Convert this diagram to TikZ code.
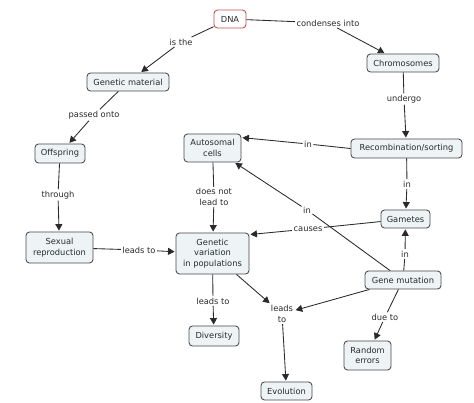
\documentclass[tikz,border=0pt]{standalone}
\usepackage{fontspec}
\setmainfont{DejaVu Sans}
\usetikzlibrary{arrows.meta,calc}
\definecolor{conceptfill}{HTML}{EEF3F6}
\definecolor{ink}{HTML}{2A2A2A}
\definecolor{dnared}{HTML}{C0504D}
\begin{document}
\begin{tikzpicture}[x=1pt,y=-1pt,
  every node/.style={font=\fontsize{8.3}{10.5}\selectfont, text=ink},
  concept/.style={draw=ink!85, line width=0.85pt, fill=conceptfill, rounded corners=3.5pt, align=center, inner sep=1pt},
  link/.style={fill=white, align=center, inner sep=1.5pt},
  conn/.style={draw=ink, line width=0.85pt},
  arr/.style={conn, -{Triangle[length=6.5pt,width=7pt]}, shorten >=1pt}
]
\useasboundingbox[fill=white] (0,0) rectangle (474,403);

% concepts
\node[concept, draw=dnared, fill=white, minimum width=32pt, minimum height=18pt] (dna) at (230,19) {DNA};
\node[concept, minimum width=72pt, minimum height=18pt] (chrom) at (403,63) {Chromosomes};
\node[concept, minimum width=82pt, minimum height=18pt] (genmat) at (128,82) {Genetic material};
\node[concept, minimum width=50pt, minimum height=19pt] (off) at (60,153.5) {Offspring};
\node[concept, minimum width=57pt, minimum height=28pt] (auto) at (212.5,148) {Autosomal\\cells};
\node[concept, minimum width=111pt, minimum height=19pt] (recomb) at (406.5,148.5) {Recombination/sorting};
\node[concept, minimum width=49pt, minimum height=18pt] (gam) at (405.5,219) {Gametes};
\node[concept, minimum width=67pt, minimum height=31pt] (sex) at (59.5,247.5) {Sexual\\reproduction};
\node[concept, minimum width=73pt, minimum height=41pt] (genvar) at (212.5,253.5) {Genetic\\variation\\in populations};
\node[concept, minimum width=76pt, minimum height=18pt] (mut) at (403,280) {Gene mutation};
\node[concept, minimum width=50pt, minimum height=20pt] (div) at (214,336) {Diversity};
\node[concept, minimum width=47pt, minimum height=29pt] (rand) at (367.5,355.5) {Random\\errors};
\node[concept, minimum width=51pt, minimum height=18pt] (evo) at (286.5,391) {Evolution};

% linking phrases
\node[link] (isthe) at (181,42) {is the};
\node[link] (cond) at (328,23) {condenses into};
\node[link] (under) at (404,99) {undergo};
\node[link] (passed) at (94,115) {passed onto};
\node[link] (inA) at (308,144) {in};
\node[link] (inB) at (407,184) {in};
\node[link] (through) at (58,195) {through};
\node[link] (dnlt) at (214,197) {does not\\lead to};
\node[link] (inC) at (307,210) {in};
\node[link] (causes) at (308,229) {causes};
\node[link] (leadsA) at (139,250) {leads to};
\node[link] (inD) at (405,254) {in};
\node[link] (leadsB) at (213,301) {leads to};
\node[link] (leadsC) at (282,314) {leads\\to};
\node[link] (due) at (385,317) {due to};

% connectors
\draw[conn] (dna) -- (isthe);
\draw[arr] (isthe) -- (genmat);
\draw[conn] (dna) -- (cond);
\draw[arr] (cond) -- (chrom);
\draw[conn] (chrom) -- (under);
\draw[arr] (under) -- (recomb);
\draw[conn] (genmat) -- (passed);
\draw[arr] (passed) -- (off);
\draw[conn] (recomb.west) -- (inA);
\draw[arr] (inA) -- ([yshift=-4pt]auto.north east);
\draw[conn] (recomb) -- (inB);
\draw[arr] (inB) -- (gam);
\draw[conn] (off) -- (through);
\draw[arr] (through) -- (sex);
\draw[conn] (auto) -- (dnlt);
\draw[arr] (dnlt) -- (genvar);
\draw[conn] (mut) -- (inC);
\draw[arr] (inC) -- (auto);
\draw[conn] (gam) -- (causes);
\draw[arr] (causes) -- ([yshift=-2pt]genvar.north east);
\draw[conn] (sex) -- (leadsA);
\draw[arr] (leadsA) -- (genvar);
\draw[conn] (mut) -- (inD);
\draw[arr] (inD) -- (gam);
\draw[conn] (genvar) -- (leadsB);
\draw[arr] (leadsB) -- (div);
\draw[arr] (genvar) -- (leadsC);
\draw[arr] (mut) -- (leadsC);
\draw[arr] (leadsC) -- (evo);
\draw[conn] (mut) -- (due);
\draw[arr] (due) -- (rand);
\end{tikzpicture}
\end{document}
